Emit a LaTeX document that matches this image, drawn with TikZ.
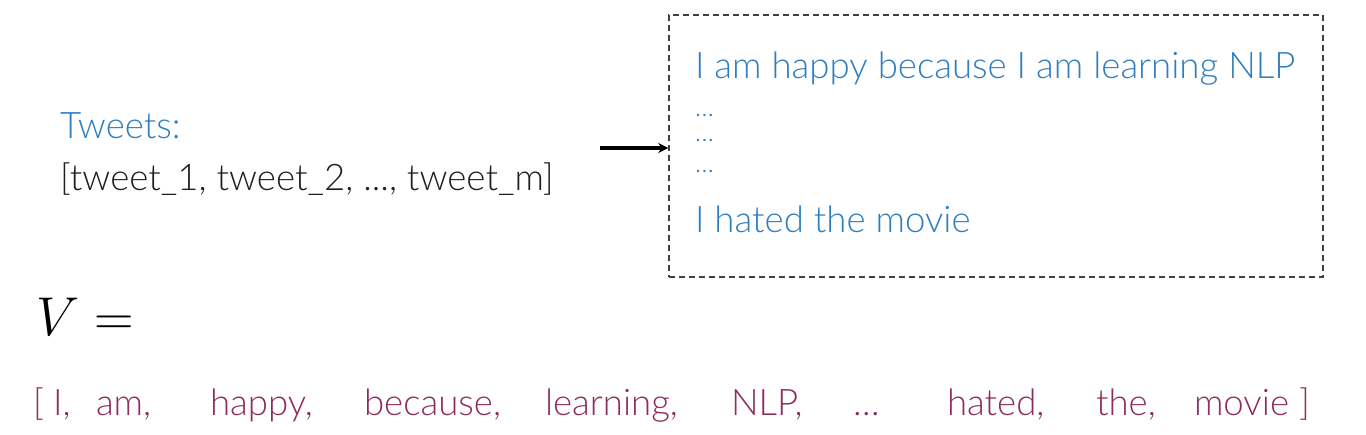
\documentclass[tikz,border=0pt]{standalone}
\usepackage{fontspec}
\setmainfont{Lato}[UprightFont={* Light}]
\usepackage{xcolor}
\usepackage{graphicx}
\usetikzlibrary{arrows.meta,positioning,fit}
\definecolor{tweetblue}{RGB}{46,126,192}
\definecolor{vocabred}{RGB}{140,45,95}
\definecolor{listgray}{RGB}{30,30,30}

\begin{document}
\begin{tikzpicture}[%
    x=1pt, y=-1pt,               % work in pixels of the slide, y going down
    >={Stealth[length=10pt,width=10pt]},
    font=\fontsize{36.6}{44}\selectfont,
    ]
% -------------------------------------------------
% Text styles
\tikzset{
base/.style={inner sep=0pt, outer sep=0pt, anchor=base west},
tweettext/.style={base, text=tweetblue},
dots/.style={tweettext, font=\fontsize{26}{30}\selectfont},
listtext/.style={base, text=listgray},
vocab/.style={base, text=vocabred},
% dashed frame round the corpus
corpus/.style={draw=black!75, line width=1.5pt, dash pattern=on 6pt off 4pt, inner sep=0pt},
}
\useasboundingbox (0,0) rectangle (1366,434);
% -------------------------------------------------
% Input tweets
\node [tweettext] (tweetlabel) at (60,138) {Tweets:};
\node [listtext]  (tweetlist)  at (60,190) {[tweet\_1, tweet\_2, ..., tweet\_m]};

% The corpus in the dashed box
\node [tweettext] (happy) at (695,78)  {I am happy because I am learning NLP};
\node [dots]      (dotsa) at (695,116) {…};
\node [dots]      (dotsb) at (695,141) {…};
\node [dots]      (dotsc) at (695,172) {…};
\node [tweettext] (hated) at (695,232) {I hated the movie};

\coordinate (boxnw) at (669,15);
\coordinate (boxse) at (1323,277);
\node [corpus, fit=(boxnw) (boxse)] (tweetbox) {};

\coordinate (arrowstart) at (600,148);
\draw [->, line width=3.5pt] (arrowstart) -- (arrowstart -| tweetbox.west);

% -------------------------------------------------
% Vocabulary
\node [base] (vlabel) at (36,335) {\scalebox{2.2}{$V =$}};

\node [vocab] (wopen)     at (33,415)   {[};
\node [vocab] (wi)        at (53,415)   {I,};
\node [vocab] (wam)       at (96,415)   {am,};
\node [vocab] (whappy)    at (210,415)  {happy,};
\node [vocab] (wbecause)  at (364,415)  {because,};
\node [vocab] (wlearning) at (545,415)  {learning,};
\node [vocab] (wnlp)      at (731,415)  {NLP,};
\node [vocab] (wdots)     at (853,415)  {…};
\node [vocab] (whated)    at (947,415)  {hated,};
\node [vocab] (wthe)      at (1096,415) {the,};
\node [vocab] (wmovie)    at (1194,415) {movie ]};

\end{tikzpicture}
\end{document}
